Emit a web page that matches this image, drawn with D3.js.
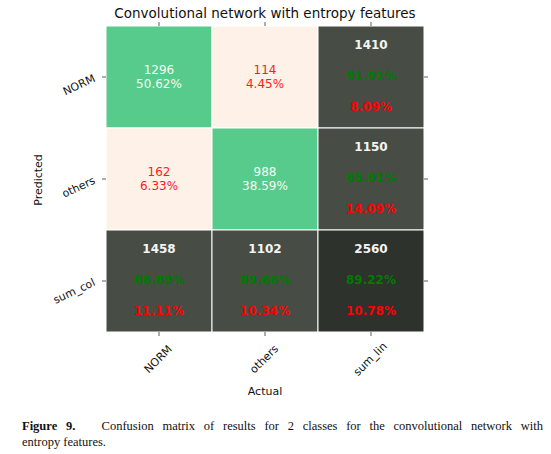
<!DOCTYPE html>
<html>
<head>
<meta charset="utf-8">
<script src="https://cdn.jsdelivr.net/npm/d3@7"></script>
<style>
  body { margin: 0; background: #fff; }
  #caption { position: absolute; left: 22px; top: 418px; width: 521px; line-height: 16px;
             font-family: "Liberation Serif", serif; font-size: 12.5px; color: #111; }
  #caption .l1 { text-align: justify; text-align-last: justify; white-space: nowrap; }
</style>
</head>
<body>
<svg id="chart" width="551" height="410"></svg>
<div id="caption">
  <div class="l1"><b>Figure 9.</b>&nbsp;&nbsp; Confusion matrix of results for 2 classes for the convolutional network with</div>
  <div>entropy features.</div>
</div>
<script>
// categories
let actualLabels = ["NORM", "others", "sum_lin"];
let predictedLabels = ["NORM", "others", "sum_col"];

// counts, rows = predicted, cols = actual
let counts = [
    [1296, 114, 1410],
    [162, 988, 1150],
    [1458, 1102, 2560]
];
// share of total for the inner cells
let sharePct = [
    [50.62, 4.45],
    [6.33, 38.59]
];
// correct / wrong % for the sum cells
let rowCorrect = [91.91, 85.91];
let rowWrong = [8.09, 14.09];
let colCorrect = [88.89, 89.66];
let colWrong = [11.11, 10.34];
let totalCorrect = 89.22;
let totalWrong = 10.78;

let svg = d3.select("#chart");
let x = d3.scaleBand().domain(actualLabels).range([106, 424]);
let y = d3.scaleBand().domain(predictedLabels).range([26, 332]);

// cell colours
function cellColor(r, c) {
    if (r == 2 && c == 2) return "#2d332c";
    if (r == 2 || c == 2) return "#474d45";
    if (r == c) return "#57cb8b";
    return "#fef2e8";
}

let cells = [];
counts.forEach(function (row, r) {
    row.forEach(function (v, c) { cells.push({r: r, c: c, v: v}); });
});

svg.append("g").selectAll("rect").data(cells).enter().append("rect")
    .attr("x", d => x(actualLabels[d.c]))
    .attr("y", d => y(predictedLabels[d.r]))
    .attr("width", x.bandwidth())
    .attr("height", y.bandwidth())
    .attr("fill", d => cellColor(d.r, d.c))
    .attr("stroke", "#fff").attr("stroke-width", 1);

let txt = svg.append("g").attr("font-family", "DejaVu Sans").attr("font-size", 12)
    .attr("text-anchor", "middle");

cells.forEach(function (d) {
    let cx = x(actualLabels[d.c]) + x.bandwidth() / 2;
    let top = y(predictedLabels[d.r]);
    let h = y.bandwidth();
    if (d.r < 2 && d.c < 2) {
        let col = d.r == d.c ? "#f4fbf4" : "#ff1a1a";
        txt.append("text").attr("x", cx).attr("y", top + h / 2 - 3).attr("fill", col).text(d.v);
        txt.append("text").attr("x", cx).attr("y", top + h / 2 + 11).attr("fill", col)
            .text(sharePct[d.r][d.c].toFixed(2) + "%");
    } else {
        let good, bad;
        if (d.r == 2 && d.c == 2) { good = totalCorrect; bad = totalWrong; }
        else if (d.c == 2) { good = rowCorrect[d.r]; bad = rowWrong[d.r]; }
        else { good = colCorrect[d.c]; bad = colWrong[d.c]; }
        let g = txt.append("g").attr("font-weight", "bold");
        g.append("text").attr("x", cx).attr("y", top + h * 0.185 + 4.5).attr("fill", "#f4f4f4").text(d.v);
        g.append("text").attr("x", cx).attr("y", top + h * 0.49 + 4.5).attr("fill", "#007a00").text(good.toFixed(2) + "%");
        g.append("text").attr("x", cx).attr("y", top + h * 0.79 + 4.5).attr("fill", "#ff0000").text(bad.toFixed(2) + "%");
    }
});

// ticks on all four sides
let tk = svg.append("g").attr("stroke", "#333").attr("stroke-width", 0.8);
actualLabels.forEach(function (a) {
    let cx = x(a) + x.bandwidth() / 2;
    tk.append("line").attr("x1", cx).attr("x2", cx).attr("y1", 332).attr("y2", 336);
    tk.append("line").attr("x1", cx).attr("x2", cx).attr("y1", 22).attr("y2", 26);
});
predictedLabels.forEach(function (p) {
    let cy = y(p) + y.bandwidth() / 2;
    tk.append("line").attr("x1", 102).attr("x2", 106).attr("y1", cy).attr("y2", cy);
    tk.append("line").attr("x1", 424).attr("x2", 428).attr("y1", cy).attr("y2", cy);
});

let lab = svg.append("g").attr("font-family", "DejaVu Sans").attr("font-size", 11).attr("fill", "#111");

// x tick labels, rotated 45
actualLabels.forEach(function (a) {
    let cx = x(a) + x.bandwidth() / 2;
    lab.append("text").attr("text-anchor", "middle")
        .attr("transform", "translate(" + (cx - 1) + ",359) rotate(-45)")
        .attr("dy", "0.35em").text(a);
});
// y tick labels, rotated 25
predictedLabels.forEach(function (p) {
    let cy = y(p) + y.bandwidth() / 2;
    lab.append("text").attr("text-anchor", "end")
        .attr("transform", "translate(96," + (cy + 4) + ") rotate(-25)")
        .text(p);
});

lab.append("text").attr("text-anchor", "middle").attr("x", 265).attr("y", 395).text("Actual");
lab.append("text").attr("text-anchor", "middle")
    .attr("transform", "translate(42,180) rotate(-90)").text("Predicted");

svg.append("text").attr("x", 265).attr("y", 18).attr("text-anchor", "middle")
    .attr("font-family", "DejaVu Sans").attr("font-size", 13.5).attr("fill", "#111")
    .text("Convolutional network with entropy features");
</script>
</body>
</html>
